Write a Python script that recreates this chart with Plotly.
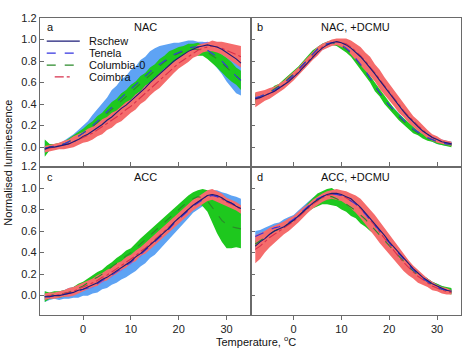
import plotly.graph_objects as go
from plotly.subplots import make_subplots

# Temperature axis (deg C)
temperature = list(range(-8, 34))

genotypes = ["Rschew", "Tenela", "Columbia-0", "Coimbra"]
panel_titles = ["NAC", "NAC, +DCMU", "ACC", "ACC, +DCMU"]
panel_letters = ["a", "b", "c", "d"]
x_ticks = [0, 10, 20, 30]

# ---------------- Panel a: NAC ----------------
a_rschew = [-0.02, 0.0, 0.0, 0.01, 0.02, 0.03, 0.05, 0.07, 0.1, 0.12,
            0.15, 0.18, 0.21, 0.25, 0.28, 0.32, 0.36, 0.39, 0.43, 0.47,
            0.51, 0.55, 0.6, 0.64, 0.68, 0.72, 0.76, 0.8, 0.83, 0.86,
            0.89, 0.91, 0.93, 0.94, 0.95, 0.94, 0.93, 0.91, 0.88, 0.85,
            0.82, 0.78]
a_tenela = [-0.01, 0.0, 0.01, 0.01, 0.03, 0.05, 0.07, 0.1, 0.13, 0.16,
            0.2, 0.24, 0.28, 0.33, 0.37, 0.42, 0.46, 0.5, 0.54, 0.58,
            0.62, 0.66, 0.7, 0.74, 0.77, 0.8, 0.83, 0.86, 0.88, 0.9,
            0.92, 0.93, 0.93, 0.92, 0.9, 0.87, 0.84, 0.8, 0.75, 0.7,
            0.66, 0.62]
a_columbia = [-0.01, 0.0, 0.01, 0.02, 0.03, 0.05, 0.08, 0.1, 0.13, 0.16,
              0.19, 0.23, 0.27, 0.31, 0.35, 0.39, 0.43, 0.47, 0.51, 0.55,
              0.59, 0.63, 0.67, 0.71, 0.75, 0.79, 0.82, 0.85, 0.87, 0.89,
              0.9, 0.91, 0.91, 0.9, 0.88, 0.85, 0.82, 0.78, 0.74, 0.7,
              0.66, 0.62]
a_coimbra = [-0.02, -0.01, 0.0, 0.01, 0.02, 0.03, 0.05, 0.07, 0.09, 0.11,
             0.13, 0.16, 0.19, 0.22, 0.25, 0.28, 0.31, 0.35, 0.38, 0.42,
             0.46, 0.5, 0.54, 0.58, 0.62, 0.66, 0.7, 0.74, 0.78, 0.81,
             0.84, 0.87, 0.9, 0.92, 0.93, 0.94, 0.93, 0.92, 0.9, 0.88,
             0.86, 0.84]
a_rschew_sd = [0.03, 0.02, 0.02, 0.02, 0.02, 0.02, 0.03, 0.03, 0.03, 0.03,
               0.03, 0.03, 0.03, 0.04, 0.03, 0.04, 0.03, 0.04, 0.03, 0.04,
               0.03, 0.04, 0.03, 0.04, 0.03, 0.04, 0.03, 0.03, 0.03, 0.03,
               0.03, 0.03, 0.03, 0.03, 0.03, 0.03, 0.03, 0.04, 0.04, 0.04,
               0.04, 0.04]
a_tenela_sd = [0.07, 0.03, 0.02, 0.02, 0.03, 0.04, 0.05, 0.06, 0.07, 0.08,
               0.1, 0.11, 0.12, 0.13, 0.16, 0.15, 0.17, 0.16, 0.18, 0.17,
               0.19, 0.18, 0.19, 0.18, 0.17, 0.15, 0.13, 0.11, 0.09, 0.08,
               0.07, 0.06, 0.05, 0.06, 0.07, 0.08, 0.1, 0.12, 0.14, 0.15,
               0.16, 0.14]
a_columbia_sd = [0.08, 0.03, 0.02, 0.02, 0.02, 0.03, 0.03, 0.04, 0.04, 0.05,
                 0.05, 0.06, 0.05, 0.06, 0.07, 0.06, 0.07, 0.06, 0.07, 0.06,
                 0.07, 0.06, 0.07, 0.06, 0.07, 0.06, 0.07, 0.06, 0.06, 0.05,
                 0.06, 0.05, 0.06, 0.05, 0.06, 0.07, 0.08, 0.08, 0.09, 0.09,
                 0.08, 0.09]
a_coimbra_sd = [0.03, 0.03, 0.03, 0.03, 0.04, 0.04, 0.05, 0.05, 0.05, 0.06,
                0.06, 0.06, 0.07, 0.06, 0.07, 0.06, 0.07, 0.07, 0.06, 0.07,
                0.06, 0.07, 0.06, 0.06, 0.07, 0.06, 0.06, 0.05, 0.05, 0.05,
                0.05, 0.04, 0.05, 0.04, 0.04, 0.05, 0.05, 0.06, 0.07, 0.08,
                0.09, 0.1]

# ---------------- Panel b: NAC, +DCMU ----------------
b_rschew = [0.45, 0.46, 0.48, 0.5, 0.52, 0.55, 0.58, 0.61, 0.65, 0.69,
            0.74, 0.79, 0.84, 0.88, 0.92, 0.95, 0.97, 0.98, 0.97, 0.95,
            0.92, 0.88, 0.84, 0.79, 0.74, 0.68, 0.62, 0.56, 0.5, 0.44,
            0.38, 0.33, 0.28, 0.23, 0.19, 0.15, 0.12, 0.09, 0.07, 0.05,
            0.04, 0.03]
b_tenela = [0.46, 0.47, 0.49, 0.51, 0.53, 0.56, 0.6, 0.63, 0.67, 0.72,
            0.77, 0.82, 0.87, 0.91, 0.94, 0.96, 0.97, 0.97, 0.95, 0.92,
            0.88, 0.83, 0.77, 0.71, 0.64, 0.57, 0.5, 0.44, 0.39, 0.34,
            0.29, 0.25, 0.21, 0.17, 0.14, 0.11, 0.09, 0.07, 0.05, 0.04,
            0.03, 0.03]
b_columbia = [0.45, 0.47, 0.49, 0.51, 0.54, 0.57, 0.6, 0.64, 0.68, 0.72,
              0.77, 0.82, 0.87, 0.91, 0.94, 0.96, 0.97, 0.96, 0.94, 0.91,
              0.87, 0.82, 0.76, 0.7, 0.63, 0.56, 0.5, 0.44, 0.38, 0.33,
              0.28, 0.24, 0.2, 0.16, 0.13, 0.1, 0.08, 0.07, 0.05, 0.04,
              0.03, 0.02]
b_coimbra = [0.44, 0.46, 0.48, 0.5, 0.52, 0.55, 0.58, 0.62, 0.66, 0.7,
             0.75, 0.8, 0.85, 0.89, 0.93, 0.95, 0.97, 0.98, 0.97, 0.96,
             0.93, 0.89, 0.85, 0.8, 0.75, 0.69, 0.63, 0.57, 0.51, 0.45,
             0.39, 0.34, 0.29, 0.24, 0.2, 0.16, 0.12, 0.09, 0.07, 0.05,
             0.04, 0.03]
b_rschew_sd = [0.03, 0.02, 0.02, 0.02, 0.02, 0.02, 0.02, 0.02, 0.02, 0.02,
               0.02, 0.02, 0.02, 0.02, 0.02, 0.02, 0.02, 0.02, 0.02, 0.02,
               0.02, 0.02, 0.02, 0.02, 0.02, 0.02, 0.02, 0.02, 0.02, 0.02,
               0.02, 0.02, 0.02, 0.02, 0.02, 0.02, 0.02, 0.02, 0.02, 0.02,
               0.02, 0.02]
b_tenela_sd = [0.03, 0.02, 0.02, 0.02, 0.02, 0.02, 0.02, 0.02, 0.02, 0.02,
               0.02, 0.02, 0.02, 0.02, 0.02, 0.02, 0.02, 0.02, 0.02, 0.02,
               0.02, 0.02, 0.02, 0.02, 0.02, 0.02, 0.02, 0.02, 0.02, 0.02,
               0.02, 0.02, 0.02, 0.02, 0.02, 0.02, 0.02, 0.02, 0.02, 0.02,
               0.02, 0.02]
b_columbia_sd = [0.05, 0.03, 0.02, 0.02, 0.03, 0.02, 0.03, 0.03, 0.03, 0.03,
                 0.03, 0.03, 0.03, 0.02, 0.02, 0.02, 0.02, 0.02, 0.03, 0.03,
                 0.03, 0.03, 0.03, 0.04, 0.03, 0.04, 0.03, 0.04, 0.03, 0.03,
                 0.03, 0.03, 0.03, 0.03, 0.02, 0.02, 0.02, 0.02, 0.02, 0.02,
                 0.02, 0.02]
b_coimbra_sd = [0.07, 0.06, 0.05, 0.05, 0.04, 0.04, 0.04, 0.04, 0.04, 0.04,
                0.04, 0.04, 0.04, 0.04, 0.03, 0.03, 0.03, 0.03, 0.04, 0.05,
                0.06, 0.07, 0.08, 0.08, 0.09, 0.08, 0.09, 0.08, 0.08, 0.07,
                0.07, 0.06, 0.06, 0.05, 0.05, 0.04, 0.04, 0.03, 0.03, 0.02,
                0.02, 0.02]

# ---------------- Panel c: ACC ----------------
c_rschew = [-0.01, -0.01, 0.0, 0.0, 0.01, 0.02, 0.03, 0.05, 0.06, 0.08,
            0.1, 0.12, 0.15, 0.17, 0.2, 0.23, 0.26, 0.29, 0.32, 0.36,
            0.39, 0.43, 0.47, 0.51, 0.55, 0.59, 0.63, 0.68, 0.72, 0.76,
            0.8, 0.84, 0.87, 0.9, 0.93, 0.94, 0.93, 0.91, 0.88, 0.86,
            0.83, 0.81]
c_tenela = [-0.01, -0.01, 0.0, 0.0, 0.01, 0.02, 0.03, 0.04, 0.06, 0.07,
            0.09, 0.11, 0.14, 0.16, 0.19, 0.22, 0.25, 0.28, 0.31, 0.35,
            0.38, 0.42, 0.46, 0.5, 0.54, 0.58, 0.62, 0.67, 0.71, 0.75,
            0.79, 0.83, 0.86, 0.89, 0.92, 0.93, 0.92, 0.9, 0.88, 0.86,
            0.84, 0.82]
c_columbia = [-0.01, 0.0, 0.01, 0.01, 0.02, 0.03, 0.05, 0.07, 0.09, 0.12,
              0.15, 0.17, 0.2, 0.23, 0.27, 0.3, 0.33, 0.37, 0.4, 0.44,
              0.48, 0.52, 0.56, 0.6, 0.64, 0.68, 0.72, 0.76, 0.8, 0.84,
              0.87, 0.9, 0.92, 0.91, 0.88, 0.82, 0.76, 0.7, 0.66, 0.64,
              0.63, 0.62]
c_coimbra = [-0.01, 0.0, 0.0, 0.01, 0.02, 0.03, 0.04, 0.06, 0.08, 0.1,
             0.12, 0.14, 0.17, 0.19, 0.22, 0.25, 0.28, 0.31, 0.34, 0.37,
             0.41, 0.44, 0.48, 0.52, 0.56, 0.6, 0.64, 0.68, 0.72, 0.76,
             0.8, 0.84, 0.87, 0.9, 0.93, 0.94, 0.92, 0.9, 0.87, 0.85,
             0.83, 0.8]
c_rschew_sd = [0.03, 0.02, 0.02, 0.02, 0.02, 0.02, 0.02, 0.02, 0.02, 0.02,
               0.03, 0.02, 0.03, 0.02, 0.03, 0.02, 0.03, 0.02, 0.03, 0.02,
               0.03, 0.02, 0.03, 0.02, 0.03, 0.02, 0.03, 0.02, 0.03, 0.02,
               0.02, 0.02, 0.02, 0.02, 0.02, 0.02, 0.02, 0.02, 0.02, 0.02,
               0.02, 0.02]
c_tenela_sd = [0.05, 0.03, 0.03, 0.04, 0.04, 0.05, 0.05, 0.06, 0.06, 0.07,
               0.07, 0.08, 0.08, 0.09, 0.09, 0.1, 0.1, 0.11, 0.11, 0.12,
               0.11, 0.12, 0.11, 0.12, 0.11, 0.1, 0.1, 0.09, 0.08, 0.08,
               0.07, 0.06, 0.06, 0.06, 0.05, 0.05, 0.06, 0.06, 0.07, 0.07,
               0.08, 0.08]
c_columbia_sd = [0.05, 0.03, 0.03, 0.03, 0.03, 0.03, 0.03, 0.04, 0.04, 0.04,
                 0.04, 0.05, 0.04, 0.05, 0.04, 0.05, 0.05, 0.05, 0.04, 0.05,
                 0.05, 0.05, 0.05, 0.05, 0.05, 0.05, 0.05, 0.05, 0.05, 0.05,
                 0.06, 0.06, 0.06, 0.08, 0.1, 0.14, 0.18, 0.2, 0.22, 0.2,
                 0.18, 0.18]
c_coimbra_sd = [0.03, 0.03, 0.03, 0.03, 0.03, 0.04, 0.04, 0.04, 0.04, 0.04,
                0.04, 0.05, 0.04, 0.05, 0.04, 0.05, 0.04, 0.05, 0.04, 0.05,
                0.04, 0.05, 0.05, 0.05, 0.05, 0.05, 0.05, 0.05, 0.05, 0.05,
                0.05, 0.05, 0.05, 0.05, 0.05, 0.05, 0.05, 0.05, 0.04, 0.04,
                0.04, 0.04]

# ---------------- Panel d: ACC, +DCMU ----------------
d_rschew = [0.46, 0.5, 0.53, 0.57, 0.6, 0.62, 0.64, 0.67, 0.7, 0.74,
            0.78, 0.82, 0.86, 0.89, 0.92, 0.94, 0.95, 0.95, 0.94, 0.92,
            0.9, 0.86, 0.82, 0.77, 0.72, 0.66, 0.61, 0.56, 0.5, 0.45,
            0.39, 0.34, 0.29, 0.25, 0.21, 0.17, 0.14, 0.11, 0.09, 0.07,
            0.05, 0.04]
d_tenela = [0.55, 0.57, 0.59, 0.61, 0.63, 0.64, 0.66, 0.68, 0.71, 0.75,
            0.79, 0.83, 0.87, 0.9, 0.92, 0.94, 0.95, 0.94, 0.93, 0.91,
            0.88, 0.85, 0.81, 0.76, 0.71, 0.66, 0.6, 0.55, 0.49, 0.44,
            0.38, 0.33, 0.28, 0.24, 0.2, 0.16, 0.13, 0.1, 0.08, 0.06,
            0.05, 0.04]
d_columbia = [0.48, 0.51, 0.54, 0.57, 0.6, 0.62, 0.64, 0.67, 0.7, 0.74,
              0.78, 0.82, 0.86, 0.89, 0.91, 0.92, 0.92, 0.9, 0.88, 0.85,
              0.82, 0.79, 0.75, 0.71, 0.66, 0.61, 0.56, 0.51, 0.46, 0.41,
              0.36, 0.31, 0.27, 0.23, 0.19, 0.16, 0.13, 0.1, 0.08, 0.06,
              0.05, 0.04]
d_coimbra = [0.43, 0.46, 0.5, 0.54, 0.57, 0.6, 0.63, 0.66, 0.69, 0.73,
             0.77, 0.81, 0.85, 0.88, 0.91, 0.93, 0.94, 0.94, 0.93, 0.91,
             0.88, 0.85, 0.81, 0.76, 0.71, 0.65, 0.59, 0.53, 0.47, 0.42,
             0.36, 0.31, 0.26, 0.22, 0.18, 0.15, 0.12, 0.09, 0.07, 0.05,
             0.04, 0.03]
d_rschew_sd = [0.04, 0.04, 0.04, 0.04, 0.04, 0.04, 0.04, 0.04, 0.04, 0.03,
               0.03, 0.03, 0.03, 0.02, 0.02, 0.02, 0.02, 0.02, 0.02, 0.02,
               0.02, 0.02, 0.02, 0.02, 0.02, 0.02, 0.02, 0.02, 0.02, 0.02,
               0.02, 0.02, 0.02, 0.02, 0.02, 0.02, 0.02, 0.02, 0.02, 0.02,
               0.02, 0.02]
d_tenela_sd = [0.05, 0.04, 0.04, 0.04, 0.04, 0.04, 0.05, 0.05, 0.04, 0.04,
               0.04, 0.04, 0.04, 0.04, 0.03, 0.03, 0.03, 0.03, 0.03, 0.03,
               0.03, 0.03, 0.03, 0.03, 0.03, 0.03, 0.03, 0.03, 0.03, 0.03,
               0.03, 0.03, 0.03, 0.03, 0.03, 0.03, 0.03, 0.02, 0.02, 0.02,
               0.02, 0.02]
d_columbia_sd = [0.03, 0.03, 0.03, 0.03, 0.03, 0.03, 0.03, 0.03, 0.03, 0.03,
                 0.03, 0.04, 0.05, 0.06, 0.06, 0.07, 0.08, 0.07, 0.08, 0.07,
                 0.08, 0.07, 0.08, 0.07, 0.06, 0.04, 0.03, 0.03, 0.03, 0.03,
                 0.03, 0.03, 0.03, 0.03, 0.03, 0.03, 0.03, 0.03, 0.03, 0.03,
                 0.03, 0.03]
d_coimbra_sd = [0.13, 0.12, 0.1, 0.09, 0.08, 0.07, 0.06, 0.06, 0.05, 0.05,
                0.05, 0.04, 0.04, 0.04, 0.04, 0.04, 0.04, 0.05, 0.05, 0.06,
                0.07, 0.08, 0.09, 0.09, 0.1, 0.1, 0.1, 0.1, 0.09, 0.09,
                0.08, 0.08, 0.07, 0.06, 0.06, 0.05, 0.04, 0.04, 0.03, 0.03,
                0.03, 0.02]

panels = [
    {"Rschew": (a_rschew, a_rschew_sd), "Tenela": (a_tenela, a_tenela_sd),
     "Columbia-0": (a_columbia, a_columbia_sd), "Coimbra": (a_coimbra, a_coimbra_sd)},
    {"Rschew": (b_rschew, b_rschew_sd), "Tenela": (b_tenela, b_tenela_sd),
     "Columbia-0": (b_columbia, b_columbia_sd), "Coimbra": (b_coimbra, b_coimbra_sd)},
    {"Rschew": (c_rschew, c_rschew_sd), "Tenela": (c_tenela, c_tenela_sd),
     "Columbia-0": (c_columbia, c_columbia_sd), "Coimbra": (c_coimbra, c_coimbra_sd)},
    {"Rschew": (d_rschew, d_rschew_sd), "Tenela": (d_tenela, d_tenela_sd),
     "Columbia-0": (d_columbia, d_columbia_sd), "Coimbra": (d_coimbra, d_coimbra_sd)},
]

band_colors = {"Tenela": "#5ea3f4", "Rschew": "#7878ee", "Coimbra": "#f56c6c", "Columbia-0": "#1ec81e"}
line_styles = {
    "Columbia-0": ("#2a8a2a", "dash"),
    "Coimbra": ("#d8304c", "dashdot"),
    "Tenela": ("#3434e0", "dash"),
    "Rschew": ("#1c1c78", "solid"),
}
band_order = ["Tenela", "Rschew", "Columbia-0", "Coimbra"]
line_order = ["Columbia-0", "Coimbra", "Tenela", "Rschew"]

FONT = "Liberation Sans, Arial, sans-serif"

fig = make_subplots(rows=2, cols=2, horizontal_spacing=0, vertical_spacing=0)
positions = [(1, 1), (1, 2), (2, 1), (2, 2)]

for p, (r, c) in zip(panels, positions):
    for g in band_order:
        mean, sd = p[g]
        upper = [m + s for m, s in zip(mean, sd)]
        lower = [m - s for m, s in zip(mean, sd)]
        fig.add_trace(go.Scatter(
            x=temperature + temperature[::-1], y=upper + lower[::-1],
            fill="toself", fillcolor=band_colors[g], line=dict(width=0),
            mode="lines", showlegend=False, hoverinfo="skip"), row=r, col=c)
    for g in line_order:
        mean, sd = p[g]
        col, dash = line_styles[g]
        fig.add_trace(go.Scatter(
            x=temperature, y=mean, mode="lines",
            line=dict(color=col, dash=dash, width=1.1),
            showlegend=False, name=g), row=r, col=c)

axis_common = dict(showline=True, mirror=True, linecolor="#6a6a6a", linewidth=1.3,
                   showgrid=False, zeroline=False,
                   tickfont=dict(family=FONT, size=11, color="#222"),
                   tickcolor="#6a6a6a", ticklen=4)

for i, (r, c) in enumerate(positions):
    fig.update_xaxes(range=[-9, 35], tickvals=x_ticks,
                     ticks="inside" if r == 1 else "outside",
                     showticklabels=(r == 2), row=r, col=c, **axis_common)
    fig.update_yaxes(range=[-0.18, 1.2], dtick=0.2, tick0=0, tickformat=".1f",
                     ticks="inside", showticklabels=(c == 1), row=r, col=c, **axis_common)

annotations = []
axis_names = ["", "2", "3", "4"]
for i, name in enumerate(axis_names):
    ty = 0.937 if i < 2 else 0.927
    annotations.append(dict(text=panel_titles[i], x=0.5, y=ty, xref=f"x{name} domain",
                            yref=f"y{name} domain", showarrow=False, xanchor="center",
                            yanchor="middle", font=dict(family=FONT, size=11, color="#111")))
    annotations.append(dict(text=panel_letters[i], x=0.022, y=ty, xref=f"x{name} domain",
                            yref=f"y{name} domain", showarrow=False, xanchor="left",
                            yanchor="middle", font=dict(family=FONT, size=11, color="#111")))

# Legend (panel a)
legend_rows = [0.844, 0.763, 0.683, 0.603]
shapes = []
for g, yy in zip(genotypes, legend_rows):
    col, dash = line_styles[g]
    x0, x1 = (0.032, 0.189) if g != "Coimbra" else (0.07, 0.155)
    shapes.append(dict(type="line", xref="x domain", yref="y domain", x0=x0, x1=x1,
                       y0=yy, y1=yy, line=dict(color=col, dash=dash, width=1.3)))
    annotations.append(dict(text=g, x=0.222, y=yy, xref="x domain", yref="y domain",
                            showarrow=False, xanchor="left", yanchor="middle",
                            font=dict(family=FONT, size=11, color="#111")))

annotations.append(dict(text="Normalised luminescence", x=-0.076, y=0.513, xref="paper",
                        yref="paper", showarrow=False, textangle=-90, xanchor="center",
                        yanchor="middle", font=dict(family=FONT, size=11, color="#111")))
annotations.append(dict(text="Temperature, <sup>o</sup>C", x=0.514, y=-0.089, xref="paper",
                        yref="paper", showarrow=False, xanchor="center", yanchor="middle",
                        font=dict(family=FONT, size=11, color="#111")))

fig.update_layout(width=474, height=349, margin=dict(l=40, r=12, t=13, b=34),
                  paper_bgcolor="white", plot_bgcolor="white", showlegend=False,
                  annotations=annotations, shapes=shapes,
                  font=dict(family=FONT, size=11, color="#111"))

fig.write_html("out.html")
